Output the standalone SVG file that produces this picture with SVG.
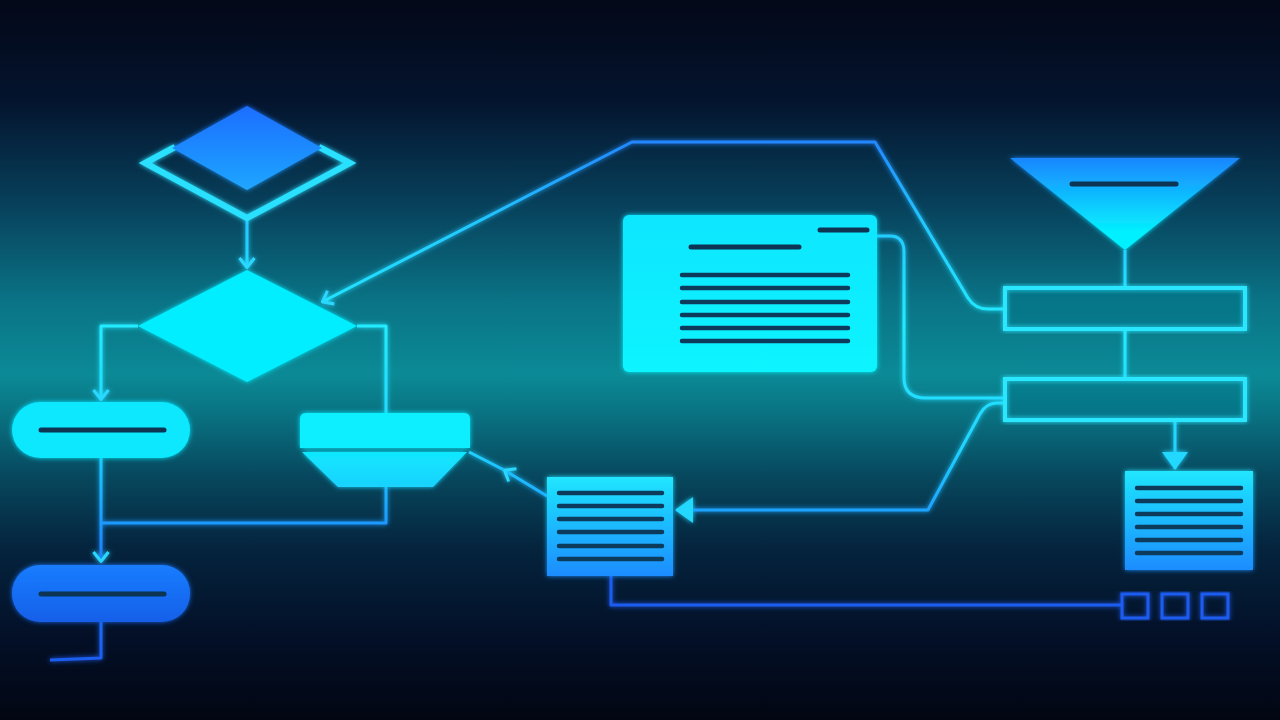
<svg xmlns="http://www.w3.org/2000/svg" width="1280" height="720" viewBox="0 0 1280 720">
  <defs>
    <linearGradient id="bg" x1="0" y1="0" x2="0" y2="1">
      <stop offset="0" stop-color="#030818"/>
      <stop offset="0.14" stop-color="#04142e"/>
      <stop offset="0.28" stop-color="#073f5a"/>
      <stop offset="0.42" stop-color="#0a7486"/>
      <stop offset="0.52" stop-color="#0b8a96"/>
      <stop offset="0.58" stop-color="#097080"/>
      <stop offset="0.66" stop-color="#07485e"/>
      <stop offset="0.76" stop-color="#05243e"/>
      <stop offset="0.88" stop-color="#031028"/>
      <stop offset="1" stop-color="#020612"/>
    </linearGradient>
    <linearGradient id="lineGrad" gradientUnits="userSpaceOnUse" x1="0" y1="100" x2="0" y2="660">
      <stop offset="0" stop-color="#1f66ff"/>
      <stop offset="0.22" stop-color="#22c8ff"/>
      <stop offset="0.4" stop-color="#22ecff"/>
      <stop offset="0.62" stop-color="#20d4ff"/>
      <stop offset="0.8" stop-color="#1a86ff"/>
      <stop offset="1" stop-color="#1a5ef0"/>
    </linearGradient>
    <linearGradient id="topDia" x1="0" y1="0" x2="0" y2="1">
      <stop offset="0" stop-color="#1a6eff"/>
      <stop offset="1" stop-color="#20a6ff"/>
    </linearGradient>
    <linearGradient id="docGrad" x1="0" y1="0" x2="0" y2="1">
      <stop offset="0" stop-color="#20e6ff"/>
      <stop offset="1" stop-color="#1a8cff"/>
    </linearGradient>
    <linearGradient id="funnelGrad" x1="0" y1="0" x2="0" y2="1">
      <stop offset="0" stop-color="#1a86ff"/>
      <stop offset="0.8" stop-color="#04f0ff"/>
    </linearGradient>
    <linearGradient id="pillBlue" x1="0" y1="0" x2="0" y2="1">
      <stop offset="0" stop-color="#1a7cff"/>
      <stop offset="1" stop-color="#1460e8"/>
    </linearGradient>
    <linearGradient id="trapGrad" x1="0" y1="0" x2="0" y2="1">
      <stop offset="0" stop-color="#10e8ff"/>
      <stop offset="1" stop-color="#1ad2ff"/>
    </linearGradient>
    <linearGradient id="cardGrad" x1="0" y1="0" x2="0" y2="1">
      <stop offset="0" stop-color="#10e6ff"/>
      <stop offset="1" stop-color="#0af4ff"/>
    </linearGradient>
    <filter id="glow" x="-10%" y="-10%" width="120%" height="120%">
      <feGaussianBlur in="SourceGraphic" stdDeviation="2.5" result="b"/>
      <feMerge>
        <feMergeNode in="b"/>
        <feMergeNode in="SourceGraphic"/>
      </feMerge>
    </filter>
    <marker id="chev" viewBox="0 0 12 18" refX="11" refY="9" markerWidth="12" markerHeight="18" markerUnits="userSpaceOnUse" orient="auto">
      <path d="M1,1.5 L10.5,9 L1,16.5" fill="none" stroke="#2ad8ff" stroke-width="3"/>
    </marker>
    <marker id="tri" viewBox="0 0 18 26" refX="17" refY="13" markerWidth="18" markerHeight="26" markerUnits="userSpaceOnUse" orient="auto">
      <path d="M0,0 L18,13 L0,26 Z" fill="#22d8ff"/>
    </marker>
  </defs>
  <style>
    .conn { fill: none; stroke: url(#lineGrad); stroke-width: 3; stroke-linejoin: round; }
    .bar { stroke: #0b3452; stroke-width: 5; stroke-linecap: round; }
    .thin { stroke: #0d3a5c; stroke-width: 4.5; stroke-linecap: round; }
    .box { fill: rgba(0,120,140,0.25); stroke: #2ae6ff; stroke-width: 4; }
    .sq { fill: none; stroke: #1e5cf0; stroke-width: 3; }
  </style>

  <rect width="1280" height="720" fill="url(#bg)"/>

  <g id="connectors" filter="url(#glow)">
    <path class="conn" d="M247,220 L247,268" marker-end="url(#chev)"/>
    <path class="conn" d="M138,326 L101,326 L101,400" marker-end="url(#chev)"/>
    <path class="conn" d="M357,326 L386,326 L386,413"/>
    <path class="conn" d="M101,458 L101,562" marker-end="url(#chev)"/>
    <path class="conn" d="M101,523 L386,523 L386,487"/>
    <path class="conn" d="M101,622 L101,658 L50,660"/>
    <path class="conn" d="M1005,309 L988,309 Q975,309 968,298 L875,142 L632,142 L322,302" marker-end="url(#chev)"/>
    <path class="conn" d="M877,236 L890,236 Q904,236 904,252 L904,378 Q904,398 926,398 L1005,398"/>
    <path class="conn" d="M1005,403 L997,403 Q986,403 980,414 L928,510 L676,510" marker-end="url(#tri)"/>
    <path class="conn" d="M547,496 L504,470" marker-end="url(#chev)"/>
    <path class="conn" d="M504,470 L469,452"/>
    <path class="conn" d="M1125,250 L1125,288"/>
    <path class="conn" d="M1125,329 L1125,379"/>
    <path class="conn" d="M1175,420 L1175,469" marker-end="url(#tri)"/>
    <path class="conn" d="M611,576 L611,605 L1122,605" style="stroke:#1e5cf0"/>
  </g>

  <g id="start-diamond" filter="url(#glow)">
    <path d="M175,147 L145,163 L247,218 L350,163 L319,147" fill="none" stroke="#2ae0ff" stroke-width="6" stroke-linejoin="miter"/>
    <polygon points="247,106 322,148 247,190 172,148" fill="url(#topDia)"/>
  </g>

  <g id="decision" filter="url(#glow)">
    <polygon points="247,270 357,326 247,382 138,326" fill="#04eeff"/>
  </g>

  <g id="pill-cyan" filter="url(#glow)">
    <rect x="12" y="402" width="178" height="56" rx="28" fill="#08e8ff"/>
    <line class="bar" x1="41" y1="430" x2="164" y2="430"/>
  </g>

  <g id="pill-blue" filter="url(#glow)">
    <rect x="12" y="565" width="178" height="57" rx="28" fill="url(#pillBlue)"/>
    <line class="bar" x1="41" y1="594" x2="164" y2="594"/>
  </g>

  <g id="manual-op" filter="url(#glow)">
    <path d="M300,419 Q300,413 306,413 L464,413 Q470,413 470,419 L470,448 L300,448 Z" fill="#10eeff"/>
    <polygon points="302,452 467,452 433,487 338,487" fill="url(#trapGrad)"/>
  </g>

  <g id="doc-middle" filter="url(#glow)">
    <rect x="547" y="477" width="126" height="99" fill="url(#docGrad)"/>
    <line class="thin" x1="559" y1="493" x2="662" y2="493"/>
    <line class="thin" x1="559" y1="506" x2="662" y2="506"/>
    <line class="thin" x1="559" y1="519" x2="662" y2="519"/>
    <line class="thin" x1="559" y1="532" x2="662" y2="532"/>
    <line class="thin" x1="559" y1="546" x2="662" y2="546"/>
    <line class="thin" x1="559" y1="559" x2="662" y2="559"/>
  </g>

  <g id="card" filter="url(#glow)">
    <rect x="623" y="215" width="254" height="157" rx="6" fill="url(#cardGrad)"/>
    <line class="bar" x1="820" y1="230" x2="867" y2="230"/>
    <line class="bar" x1="691" y1="247" x2="799" y2="247"/>
    <line class="thin" x1="682" y1="275" x2="848" y2="275"/>
    <line class="thin" x1="682" y1="288" x2="848" y2="288"/>
    <line class="thin" x1="682" y1="302" x2="848" y2="302"/>
    <line class="thin" x1="682" y1="315" x2="848" y2="315"/>
    <line class="thin" x1="682" y1="328" x2="848" y2="328"/>
    <line class="thin" x1="682" y1="341" x2="848" y2="341"/>
  </g>

  <g id="funnel" filter="url(#glow)">
    <polygon points="1010,158 1240,158 1125,250" fill="url(#funnelGrad)"/>
    <line class="bar" x1="1072" y1="184" x2="1176" y2="184"/>
  </g>

  <g id="process-1" filter="url(#glow)">
    <rect class="box" x="1005" y="288" width="240" height="41"/>
  </g>

  <g id="process-2" filter="url(#glow)">
    <rect class="box" x="1005" y="379" width="240" height="41"/>
  </g>

  <g id="doc-right" filter="url(#glow)">
    <rect x="1125" y="471" width="128" height="99" fill="url(#docGrad)"/>
    <line class="thin" x1="1137" y1="488" x2="1241" y2="488"/>
    <line class="thin" x1="1137" y1="501" x2="1241" y2="501"/>
    <line class="thin" x1="1137" y1="514" x2="1241" y2="514"/>
    <line class="thin" x1="1137" y1="527" x2="1241" y2="527"/>
    <line class="thin" x1="1137" y1="540" x2="1241" y2="540"/>
    <line class="thin" x1="1137" y1="553" x2="1241" y2="553"/>
  </g>

  <g id="squares" filter="url(#glow)">
    <rect class="sq" x="1122" y="594" width="26" height="24"/>
    <rect class="sq" x="1162" y="594" width="26" height="24"/>
    <rect class="sq" x="1202" y="594" width="26" height="24"/>
  </g>
</svg>
